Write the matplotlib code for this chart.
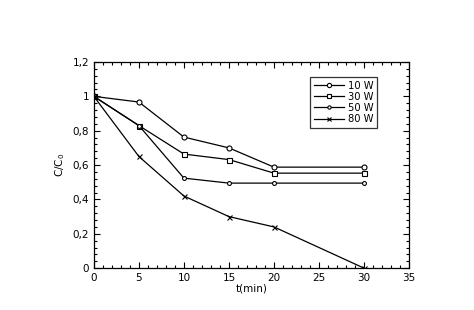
import matplotlib
matplotlib.use("Agg")
import matplotlib.pyplot as plt
from matplotlib.ticker import MultipleLocator, FuncFormatter

t = [0, 5, 10, 15, 20, 30]
w10 = [1.0, 0.967, 0.763, 0.70, 0.588, 0.588]
w30 = [1.0, 0.83, 0.664, 0.632, 0.553, 0.553]
w50 = [1.0, 0.83, 0.524, 0.495, 0.495, 0.495]
w80 = [1.0, 0.65, 0.42, 0.30, 0.24, 0.0]
labels = ["10 W", "30 W", "50 W", "80 W"]

fig = plt.figure(figsize=(4.74, 3.10), dpi=100)
ax = fig.add_axes([0.198, 0.135, 0.665, 0.665])

ms = 3.6
ax.plot(t, w10, color="black", lw=0.9, marker="o", ms=ms, mfc="white", mec="black", mew=0.8, label=labels[0])
ax.plot(t, w30, color="black", lw=0.9, marker="s", ms=ms, mfc="white", mec="black", mew=0.8, label=labels[1])
ax.plot(t, w50, color="black", lw=0.9, marker="o", ms=2.8, mfc="white", mec="black", mew=0.8, label=labels[2])
ax.plot(t, w80, color="black", lw=0.9, marker="x", ms=ms, mec="black", mew=0.8, label=labels[3])

ax.set_xlim(0, 35)
ax.set_ylim(0, 1.2)
ax.xaxis.set_major_locator(MultipleLocator(5))
ax.xaxis.set_minor_locator(MultipleLocator(1))
ax.yaxis.set_major_locator(MultipleLocator(0.2))
ax.yaxis.set_minor_locator(MultipleLocator(0.04))
fmt = FuncFormatter(lambda v, p: ("%g" % round(v, 2)).replace(".", ","))
ax.yaxis.set_major_formatter(fmt)
ax.tick_params(which="both", direction="in", top=True, right=True, labelsize=7.5, width=0.8)
ax.tick_params(which="major", length=4)
ax.tick_params(which="minor", length=2)
for s in ax.spines.values():
    s.set_linewidth(0.9)

ax.set_xlabel("t(min)", fontsize=7.5, labelpad=0)
ax.set_ylabel("C/C$_0$", fontsize=7.5, labelpad=4)

leg = ax.legend(loc="upper right", bbox_to_anchor=(0.898, 0.927), fontsize=7.2, frameon=True,
                fancybox=False, edgecolor="black", handlelength=3, borderpad=0.35,
                labelspacing=0.12, handletextpad=0.4, borderaxespad=0, markerscale=0.85)
leg.get_frame().set_linewidth(0.9)

fig.savefig("out.png", dpi=100)
